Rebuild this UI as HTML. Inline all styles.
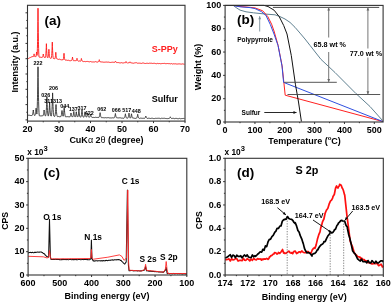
<!DOCTYPE html>
<html><head><meta charset="utf-8"><style>html,body{margin:0;padding:0;background:#fff;}svg{display:block;filter:blur(0.3px);}</style></head>
<body><svg width="392" height="303" viewBox="0 0 392 303">
<rect width="392" height="303" fill="#fff"/>
<path d="M27.50,58.87 L28.50,58.49 L29.50,57.86 L30.50,57.44 L31.50,56.92 L32.50,56.60 L33.00,56.59 L33.10,56.84 L33.30,56.69 L33.50,56.34 L33.65,55.93 L33.80,55.39 L33.95,54.72 L34.10,53.90 L34.25,54.72 L34.40,55.39 L34.50,55.76 L34.55,55.93 L34.70,56.34 L34.90,56.69 L35.10,56.84 L35.20,56.67 L35.50,57.02 L35.60,56.89 L35.80,56.64 L36.00,56.05 L36.15,55.37 L36.30,54.48 L36.45,53.36 L36.50,52.93 L36.60,52.00 L36.75,53.36 L36.90,54.48 L37.00,55.10 L37.05,55.37 L37.20,54.16 L37.40,48.35 L37.50,44.10 L37.55,41.63 L37.60,38.92 L37.70,32.76 L37.85,21.64 L38.00,8.20 L38.15,21.64 L38.30,32.76 L38.45,41.63 L38.50,44.10 L38.60,48.35 L38.80,54.16 L39.00,56.70 L39.10,57.07 L39.50,57.20 L40.50,57.23 L41.50,57.40 L42.20,57.31 L42.30,57.06 L42.50,57.14 L42.70,56.74 L42.85,56.28 L43.00,55.68 L43.15,54.92 L43.30,54.00 L43.45,54.92 L43.50,55.19 L43.60,55.68 L43.75,56.28 L43.90,56.74 L44.10,57.14 L44.30,57.22 L44.40,57.59 L44.50,57.41 L45.30,57.36 L45.40,57.44 L45.50,57.31 L45.60,56.84 L45.80,55.18 L45.95,53.26 L46.10,50.72 L46.25,47.54 L46.40,43.70 L46.50,46.34 L46.55,47.54 L46.70,50.72 L46.85,53.26 L47.00,55.18 L47.20,56.84 L47.40,57.57 L47.50,57.52 L47.80,57.63 L47.90,57.74 L48.10,57.40 L48.30,56.37 L48.45,55.19 L48.50,54.71 L48.60,53.63 L48.75,51.67 L48.90,49.30 L49.05,51.67 L49.20,53.63 L49.35,55.19 L49.50,56.37 L49.70,57.40 L49.90,57.85 L50.00,58.06 L50.50,58.30 L51.20,58.18 L51.30,58.16 L51.50,57.41 L51.70,55.48 L51.85,53.24 L52.00,50.28 L52.15,46.58 L52.30,42.10 L52.45,46.58 L52.50,47.90 L52.60,50.28 L52.75,53.24 L52.90,55.48 L53.10,57.41 L53.30,58.26 L53.40,58.57 L53.50,58.51 L54.50,58.76 L54.70,58.63 L54.80,58.82 L55.00,58.49 L55.20,57.71 L55.35,56.81 L55.50,55.61 L55.65,54.11 L55.80,52.30 L55.95,54.11 L56.10,55.61 L56.25,56.81 L56.40,57.71 L56.50,58.16 L56.60,58.49 L56.80,58.84 L56.90,58.94 L57.50,59.06 L58.50,59.41 L59.50,59.19 L60.50,59.60 L61.50,59.83 L62.50,59.76 L62.90,59.77 L63.00,60.03 L63.20,59.67 L63.40,58.87 L63.50,58.28 L63.55,57.94 L63.70,56.71 L63.85,55.16 L64.00,53.30 L64.15,55.16 L64.30,56.71 L64.45,57.94 L64.50,58.28 L64.60,58.87 L64.80,59.67 L65.00,60.03 L65.10,60.06 L65.50,60.10 L66.50,60.11 L67.50,60.38 L68.50,60.27 L69.50,60.65 L70.50,60.73 L71.40,60.46 L71.50,60.51 L71.70,60.48 L71.90,60.05 L72.05,59.56 L72.20,58.91 L72.35,58.09 L72.50,57.10 L72.65,58.09 L72.80,58.91 L72.95,59.56 L73.10,60.05 L73.30,60.48 L73.50,60.67 L73.60,60.69 L74.50,60.65 L75.50,60.63 L75.90,60.98 L76.00,60.97 L76.20,60.83 L76.40,60.51 L76.50,60.27 L76.55,60.14 L76.70,59.65 L76.85,59.04 L77.00,58.30 L77.15,59.04 L77.30,59.65 L77.45,60.14 L77.50,60.27 L77.60,60.51 L77.80,60.82 L78.00,60.97 L78.10,60.95 L78.50,61.23 L79.50,60.92 L80.30,61.40 L80.40,61.25 L80.50,61.20 L80.60,61.11 L80.80,60.78 L80.95,60.40 L81.10,59.89 L81.25,59.26 L81.40,58.50 L81.50,59.02 L81.55,59.26 L81.70,59.89 L81.85,60.40 L82.00,60.78 L82.20,61.11 L82.40,61.25 L82.50,61.21 L83.50,61.58 L84.50,61.46 L85.50,61.66 L86.50,61.48 L87.50,61.43 L88.50,61.63 L89.50,61.81 L90.50,61.52 L91.50,61.86 L92.50,61.96 L93.50,61.94 L94.50,61.98 L95.50,61.60 L96.50,61.95 L97.50,62.10 L98.20,61.71 L98.30,61.83 L98.50,61.83 L98.70,61.57 L98.85,61.26 L99.00,60.85 L99.15,60.33 L99.30,59.70 L99.45,60.33 L99.50,60.51 L99.60,60.85 L99.75,61.26 L99.90,61.57 L100.10,61.85 L100.30,61.80 L100.40,62.01 L100.50,61.92 L101.50,61.96 L102.50,62.01 L103.50,62.19 L104.50,62.19 L105.50,62.11 L106.50,62.06 L107.50,62.16 L108.50,62.10 L109.50,62.34 L110.50,62.46 L111.50,62.32 L112.50,62.21 L113.50,62.29 L114.30,62.41 L114.40,62.51 L114.50,62.48 L114.60,62.43 L114.80,62.25 L114.95,62.04 L115.10,61.76 L115.25,61.42 L115.40,61.00 L115.50,61.29 L115.55,61.42 L115.70,61.76 L115.85,62.04 L116.00,62.25 L116.20,62.43 L116.40,62.51 L116.50,62.34 L117.50,62.55 L118.50,62.58 L119.50,62.84 L120.50,62.90 L121.50,62.65 L122.50,62.95 L123.50,62.93 L124.50,62.70 L124.90,62.81 L125.00,62.64 L125.20,62.79 L125.40,62.63 L125.50,62.51 L125.55,62.44 L125.70,62.19 L125.85,61.88 L126.00,61.50 L126.15,61.88 L126.30,62.19 L126.45,62.44 L126.50,62.51 L126.60,62.63 L126.80,62.67 L127.00,62.70 L127.10,62.70 L127.50,63.11 L128.50,62.79 L128.90,62.73 L129.00,62.99 L129.20,62.78 L129.40,62.79 L129.50,62.68 L129.55,62.62 L129.70,62.40 L129.85,62.13 L130.00,61.80 L130.15,62.13 L130.30,62.40 L130.45,62.62 L130.50,62.68 L130.60,62.79 L130.80,62.93 L131.00,62.99 L131.10,62.80 L131.50,62.94 L132.50,63.08 L133.50,63.23 L134.50,62.95 L134.90,62.93 L135.00,62.97 L135.20,63.06 L135.40,62.97 L135.50,62.90 L135.55,62.85 L135.70,62.71 L135.85,62.52 L136.00,62.30 L136.15,62.52 L136.30,62.71 L136.45,62.85 L136.50,62.90 L136.60,62.97 L136.80,62.95 L137.00,63.10 L137.10,63.11 L137.50,63.22 L138.50,63.16 L139.50,63.16 L140.50,63.26 L141.50,63.41 L142.50,63.05 L143.50,63.04 L144.50,63.39 L145.50,63.49 L146.50,63.31 L147.50,63.29 L148.50,63.45 L149.50,63.20 L150.50,63.26 L151.50,63.24 L152.50,63.45 L153.50,63.33 L154.50,63.31 L155.50,63.56 L156.50,63.71 L157.50,63.40 L158.50,63.62 L159.50,63.49 L160.50,63.73 L161.50,63.62 L162.50,63.47 L163.50,63.47 L164.50,63.39 L165.50,63.64 L166.50,63.61 L167.50,63.52 L168.50,63.63 L169.50,63.63 L170.50,63.87 L171.50,63.58 L172.50,64.02 L173.50,63.78 L174.50,63.86 L175.50,63.81 L176.50,64.01 L177.50,64.02 L178.50,63.91 L179.50,63.89 L180.50,64.03 L181.50,64.11 L182.50,63.90 L183.50,64.09 L184.50,64.22" fill="none" stroke="#ff1a1a" stroke-width="0.95" stroke-linejoin="round" />
<path d="M27.50,115.29 L28.50,115.23 L29.50,115.27 L30.50,115.51 L31.50,115.53 L31.90,115.53 L32.10,115.46 L32.30,115.18 L32.50,114.67 L32.70,113.92 L32.85,113.17 L33.00,112.28 L33.15,111.22 L33.30,110.00 L33.45,111.22 L33.50,111.59 L33.60,112.28 L33.75,113.17 L33.90,113.92 L34.10,114.67 L34.30,115.18 L34.50,115.46 L34.70,115.50 L34.90,115.54 L35.10,115.17 L35.30,114.49 L35.50,113.47 L35.65,112.47 L35.80,111.26 L35.95,109.84 L36.10,108.20 L36.25,109.84 L36.40,111.26 L36.50,112.09 L36.55,112.47 L36.60,112.83 L36.70,113.47 L36.80,114.02 L36.90,114.07 L37.00,112.61 L37.10,110.64 L37.20,108.14 L37.30,105.07 L37.40,101.44 L37.50,97.21 L37.55,94.88 L37.70,86.94 L37.85,77.60 L38.00,66.80 L38.15,77.60 L38.30,86.94 L38.45,94.88 L38.50,97.21 L38.60,101.44 L38.80,108.14 L39.00,112.61 L39.20,115.04 L39.40,115.72 L39.50,115.87 L40.50,115.89 L41.50,115.89 L42.50,115.77 L42.70,115.96 L42.90,115.88 L43.10,115.59 L43.30,115.04 L43.50,114.22 L43.65,113.42 L43.80,112.46 L43.95,111.32 L44.10,110.00 L44.25,111.32 L44.40,112.46 L44.50,113.12 L44.55,113.42 L44.70,114.22 L44.90,115.04 L45.10,115.59 L45.30,115.84 L45.50,115.96 L45.70,115.81 L45.90,114.84 L46.10,113.06 L46.30,110.39 L46.45,107.78 L46.50,106.79 L46.60,104.62 L46.75,100.90 L46.90,96.60 L47.05,100.90 L47.20,104.62 L47.35,107.78 L47.50,110.39 L47.70,113.06 L47.90,114.84 L48.10,115.81 L48.20,116.02 L48.30,116.08 L48.40,115.98 L48.50,115.71 L48.60,115.28 L48.80,113.98 L49.00,112.04 L49.15,110.14 L49.30,107.84 L49.45,105.13 L49.50,104.13 L49.60,102.00 L49.75,105.13 L49.90,107.84 L50.05,110.14 L50.20,112.04 L50.40,113.98 L50.50,114.71 L50.60,115.28 L50.80,115.99 L51.00,116.12 L51.20,116.15 L51.40,115.98 L51.50,115.51 L51.60,114.82 L51.80,112.68 L52.00,109.47 L52.15,106.33 L52.30,102.54 L52.45,98.06 L52.50,96.42 L52.60,92.90 L52.75,98.06 L52.90,102.54 L53.05,106.33 L53.20,109.47 L53.40,112.68 L53.50,113.87 L53.60,114.82 L53.80,115.98 L54.00,116.30 L54.50,116.38 L54.60,116.39 L54.80,116.27 L55.00,115.68 L55.20,114.59 L55.40,112.95 L55.50,111.92 L55.55,111.35 L55.70,109.42 L55.85,107.13 L56.00,104.50 L56.15,107.13 L56.30,109.42 L56.45,111.35 L56.50,111.92 L56.60,112.95 L56.80,114.59 L57.00,115.68 L57.20,116.27 L57.40,116.44 L57.50,116.67 L58.50,116.47 L59.50,116.73 L60.50,116.70 L60.60,116.48 L60.80,116.59 L61.00,116.29 L61.20,115.72 L61.40,114.88 L61.50,114.34 L61.55,114.05 L61.70,113.04 L61.85,111.86 L62.00,110.50 L62.15,111.86 L62.30,113.04 L62.45,114.05 L62.50,114.34 L62.60,114.88 L62.80,115.72 L63.00,116.29 L63.20,116.12 L63.40,115.18 L63.50,114.53 L63.60,113.77 L63.75,112.39 L63.90,110.73 L64.05,108.77 L64.20,106.50 L64.35,108.77 L64.50,110.73 L64.65,112.39 L64.80,113.77 L65.00,115.18 L65.20,116.12 L65.40,116.63 L65.50,116.74 L65.60,116.77 L66.50,116.72 L67.50,116.65 L68.50,116.75 L69.50,117.00 L69.60,116.75 L69.80,116.87 L70.00,116.67 L70.20,116.31 L70.40,115.78 L70.50,115.44 L70.55,115.25 L70.70,114.61 L70.85,113.87 L71.00,113.00 L71.15,113.87 L71.30,114.61 L71.45,115.25 L71.50,115.44 L71.60,115.78 L71.80,116.31 L72.00,116.67 L72.20,116.87 L72.40,116.91 L72.50,116.76 L72.60,116.90 L72.80,116.63 L73.00,116.13 L73.20,115.38 L73.35,114.64 L73.50,113.75 L73.65,112.71 L73.80,111.50 L73.95,112.71 L74.10,113.75 L74.25,114.64 L74.40,115.38 L74.50,115.78 L74.60,116.13 L74.80,116.63 L74.90,116.79 L75.00,116.90 L75.10,116.95 L75.20,116.85 L75.30,116.69 L75.50,116.22 L75.70,115.50 L75.85,114.80 L76.00,113.95 L76.15,112.95 L76.30,111.80 L76.45,112.95 L76.50,113.30 L76.60,113.95 L76.75,114.80 L76.90,115.50 L77.10,116.22 L77.30,116.69 L77.50,116.95 L77.70,116.98 L77.90,116.63 L78.10,115.98 L78.30,115.01 L78.45,114.06 L78.50,113.70 L78.60,112.91 L78.75,111.56 L78.90,110.00 L79.05,111.56 L79.20,112.91 L79.35,114.06 L79.50,115.01 L79.70,115.98 L79.90,116.63 L80.10,116.98 L80.30,116.98 L80.50,117.21 L80.60,117.21 L80.80,117.04 L81.00,116.69 L81.20,116.03 L81.40,115.06 L81.50,114.44 L81.55,114.10 L81.70,112.94 L81.85,111.58 L82.00,110.00 L82.15,111.58 L82.30,112.94 L82.45,114.10 L82.50,114.44 L82.60,115.06 L82.80,116.03 L83.00,116.69 L83.20,117.04 L83.40,116.98 L83.50,117.16 L83.60,117.28 L83.80,117.13 L84.00,116.86 L84.20,116.36 L84.40,115.62 L84.50,115.16 L84.55,114.90 L84.70,114.02 L84.85,112.99 L85.00,111.80 L85.15,112.99 L85.30,114.02 L85.45,114.90 L85.50,115.16 L85.60,115.62 L85.80,116.36 L86.00,116.86 L86.20,117.13 L86.40,117.07 L86.50,117.06 L86.60,116.98 L86.80,116.59 L87.00,116.01 L87.15,115.44 L87.30,114.75 L87.45,113.94 L87.50,113.64 L87.60,113.00 L87.75,113.94 L87.90,114.75 L88.05,115.44 L88.20,116.01 L88.40,116.59 L88.50,116.81 L88.60,116.98 L88.80,117.19 L89.00,117.16 L89.20,117.16 L89.40,117.12 L89.50,117.20 L89.60,117.10 L89.80,116.80 L90.00,116.35 L90.15,115.90 L90.30,115.36 L90.45,114.73 L90.50,114.50 L90.60,114.00 L90.75,114.73 L90.90,115.36 L91.05,115.90 L91.20,116.35 L91.40,116.80 L91.50,116.97 L91.60,117.10 L91.80,117.27 L92.00,117.18 L92.50,117.48 L93.50,117.41 L94.50,117.52 L95.50,117.29 L96.50,117.45 L97.50,117.44 L98.50,117.56 L98.70,117.30 L98.90,117.42 L99.10,117.20 L99.30,116.76 L99.50,116.10 L99.65,115.46 L99.80,114.68 L99.95,113.76 L100.10,112.70 L100.25,113.76 L100.40,114.68 L100.50,115.21 L100.55,115.46 L100.70,116.10 L100.90,116.76 L101.10,117.20 L101.30,117.40 L101.50,117.71 L102.50,117.65 L103.50,117.73 L104.50,117.80 L105.50,117.67 L106.50,117.82 L107.50,117.69 L108.50,117.67 L109.50,117.90 L110.50,117.91 L111.50,117.95 L112.50,117.79 L113.50,117.92 L114.00,117.79 L114.20,117.80 L114.40,117.58 L114.50,117.41 L114.60,117.18 L114.80,116.59 L114.95,116.00 L115.10,115.29 L115.25,114.46 L115.40,113.50 L115.50,114.16 L115.55,114.46 L115.70,115.29 L115.85,116.00 L116.00,116.59 L116.20,117.18 L116.40,117.58 L116.50,117.71 L116.60,117.80 L116.80,117.73 L117.50,117.83 L118.50,117.90 L119.50,117.79 L120.50,117.84 L121.50,118.11 L122.50,118.11 L123.50,118.24 L124.00,118.25 L124.20,118.03 L124.40,117.82 L124.50,117.65 L124.60,117.43 L124.80,116.84 L124.95,116.26 L125.10,115.57 L125.25,114.75 L125.40,113.80 L125.50,114.45 L125.55,114.75 L125.70,115.57 L125.85,116.26 L126.00,116.84 L126.20,117.43 L126.40,117.82 L126.50,117.92 L126.60,117.97 L126.80,118.09 L127.50,118.16 L127.60,118.01 L127.80,117.97 L128.00,117.86 L128.20,117.41 L128.40,116.72 L128.50,116.29 L128.55,116.06 L128.70,115.25 L128.85,114.30 L129.00,113.20 L129.15,114.30 L129.30,115.25 L129.45,116.06 L129.50,116.29 L129.60,116.72 L129.80,117.41 L130.00,117.86 L130.10,118.01 L130.20,118.11 L130.30,118.15 L130.40,118.06 L130.50,117.93 L130.70,117.53 L130.90,116.92 L131.05,116.33 L131.20,115.62 L131.35,114.77 L131.50,113.80 L131.65,114.77 L131.80,115.62 L131.95,116.33 L132.10,116.92 L132.30,117.53 L132.50,117.93 L132.70,118.13 L132.90,118.09 L133.50,118.03 L134.50,118.29 L135.50,118.40 L136.30,118.26 L136.50,118.20 L136.70,118.00 L136.90,117.64 L137.10,117.10 L137.25,116.57 L137.40,115.93 L137.50,115.44 L137.55,115.17 L137.70,114.30 L137.85,115.17 L138.00,115.93 L138.15,116.57 L138.30,117.10 L138.50,117.64 L138.70,118.00 L138.90,118.20 L139.10,118.25 L139.50,118.45 L140.50,118.14 L141.50,118.21 L142.50,118.30 L143.50,118.26 L144.40,118.45 L144.50,118.31 L144.60,118.28 L144.80,118.17 L145.00,117.96 L145.20,117.64 L145.35,117.33 L145.50,116.95 L145.65,116.51 L145.80,116.00 L145.95,116.51 L146.10,116.95 L146.25,117.33 L146.40,117.64 L146.50,117.81 L146.60,117.96 L146.80,118.17 L147.00,118.28 L147.20,118.20 L147.50,118.50 L148.50,118.21 L149.50,118.30 L150.50,118.48 L151.50,118.28 L152.50,118.27 L153.50,118.55 L154.50,118.56 L155.50,118.31 L156.50,118.35 L157.50,118.31 L158.50,118.26 L159.50,118.31 L160.50,118.61 L161.50,118.26 L162.50,118.33 L163.50,118.32 L164.50,118.28 L165.50,118.47 L166.50,118.56 L167.50,118.61 L168.50,118.53 L168.90,118.61 L169.10,118.29 L169.30,118.39 L169.50,118.23 L169.70,118.00 L169.85,117.77 L170.00,117.50 L170.15,117.17 L170.30,116.80 L170.45,117.17 L170.50,117.29 L170.60,117.50 L170.75,117.77 L170.90,118.00 L171.10,118.23 L171.30,118.39 L171.50,118.47 L171.70,118.49 L172.50,118.37 L173.50,118.34 L174.50,118.63 L175.50,118.40 L176.50,118.41 L177.50,118.67 L178.50,118.70 L179.50,118.38 L180.50,118.75 L181.50,118.59 L182.50,118.53 L183.50,118.43 L184.50,118.55" fill="none" stroke="#222" stroke-width="0.85" stroke-linejoin="round" />
<rect x="27.50" y="5.30" width="157.50" height="115.80" fill="none" stroke="#333" stroke-width="1.1"/>
<line x1="27.50" y1="121.10" x2="27.50" y2="123.10" stroke="#333" stroke-width="1" />
<text x="27.50" y="132.00" font-size="9" text-anchor="middle" fill="#000" font-family="Liberation Sans" font-weight="bold" >20</text>
<line x1="59.00" y1="121.10" x2="59.00" y2="123.10" stroke="#333" stroke-width="1" />
<text x="59.00" y="132.00" font-size="9" text-anchor="middle" fill="#000" font-family="Liberation Sans" font-weight="bold" >30</text>
<line x1="90.50" y1="121.10" x2="90.50" y2="123.10" stroke="#333" stroke-width="1" />
<text x="90.50" y="132.00" font-size="9" text-anchor="middle" fill="#000" font-family="Liberation Sans" font-weight="bold" >40</text>
<line x1="122.00" y1="121.10" x2="122.00" y2="123.10" stroke="#333" stroke-width="1" />
<text x="122.00" y="132.00" font-size="9" text-anchor="middle" fill="#000" font-family="Liberation Sans" font-weight="bold" >50</text>
<line x1="153.50" y1="121.10" x2="153.50" y2="123.10" stroke="#333" stroke-width="1" />
<text x="153.50" y="132.00" font-size="9" text-anchor="middle" fill="#000" font-family="Liberation Sans" font-weight="bold" >60</text>
<line x1="185.00" y1="121.10" x2="185.00" y2="123.10" stroke="#333" stroke-width="1" />
<text x="185.00" y="132.00" font-size="9" text-anchor="middle" fill="#000" font-family="Liberation Sans" font-weight="bold" >70</text>
<line x1="43.25" y1="121.10" x2="43.25" y2="122.30" stroke="#333" stroke-width="1" />
<line x1="74.75" y1="121.10" x2="74.75" y2="122.30" stroke="#333" stroke-width="1" />
<line x1="106.25" y1="121.10" x2="106.25" y2="122.30" stroke="#333" stroke-width="1" />
<line x1="137.75" y1="121.10" x2="137.75" y2="122.30" stroke="#333" stroke-width="1" />
<line x1="169.25" y1="121.10" x2="169.25" y2="122.30" stroke="#333" stroke-width="1" />
<line x1="25.50" y1="12.80" x2="27.50" y2="12.80" stroke="#333" stroke-width="1" />
<line x1="26.30" y1="20.45" x2="27.50" y2="20.45" stroke="#333" stroke-width="1" />
<line x1="25.50" y1="28.10" x2="27.50" y2="28.10" stroke="#333" stroke-width="1" />
<line x1="26.30" y1="35.75" x2="27.50" y2="35.75" stroke="#333" stroke-width="1" />
<line x1="25.50" y1="43.40" x2="27.50" y2="43.40" stroke="#333" stroke-width="1" />
<line x1="26.30" y1="51.05" x2="27.50" y2="51.05" stroke="#333" stroke-width="1" />
<line x1="25.50" y1="58.70" x2="27.50" y2="58.70" stroke="#333" stroke-width="1" />
<line x1="26.30" y1="66.35" x2="27.50" y2="66.35" stroke="#333" stroke-width="1" />
<line x1="25.50" y1="74.00" x2="27.50" y2="74.00" stroke="#333" stroke-width="1" />
<line x1="26.30" y1="81.65" x2="27.50" y2="81.65" stroke="#333" stroke-width="1" />
<line x1="25.50" y1="89.30" x2="27.50" y2="89.30" stroke="#333" stroke-width="1" />
<line x1="26.30" y1="96.95" x2="27.50" y2="96.95" stroke="#333" stroke-width="1" />
<line x1="25.50" y1="104.60" x2="27.50" y2="104.60" stroke="#333" stroke-width="1" />
<line x1="26.30" y1="112.25" x2="27.50" y2="112.25" stroke="#333" stroke-width="1" />
<line x1="25.50" y1="119.90" x2="27.50" y2="119.90" stroke="#333" stroke-width="1" />
<text x="106.50" y="143.20" font-size="9" text-anchor="middle" fill="#000" font-family="Liberation Sans" font-weight="bold" >CuK<tspan font-weight="normal">α</tspan> 2<tspan font-weight="normal">θ</tspan> (degree)</text>
<text x="17.60" y="62.00" font-size="9" text-anchor="middle" fill="#000" font-family="Liberation Sans" font-weight="bold" transform="rotate(-90 17.6 62)">Intensity (a.u.)</text>
<text x="44.50" y="25.00" font-size="13.5" text-anchor="start" fill="#000" font-family="Liberation Sans" font-weight="bold" >(a)</text>
<text x="151.80" y="52.00" font-size="9" text-anchor="start" fill="#ff2020" font-family="Liberation Sans" font-weight="bold" >S-PPy</text>
<text x="151.80" y="101.60" font-size="9" text-anchor="start" fill="#000" font-family="Liberation Sans" font-weight="bold" >Sulfur</text>
<text x="38.10" y="64.80" font-size="5.4" text-anchor="middle" fill="#000" font-family="Liberation Sans" font-weight="bold" >222</text>
<text x="45.70" y="96.60" font-size="5.4" text-anchor="middle" fill="#000" font-family="Liberation Sans" font-weight="bold" >026</text>
<text x="53.40" y="90.00" font-size="5.4" text-anchor="middle" fill="#000" font-family="Liberation Sans" font-weight="bold" >206</text>
<text x="48.60" y="103.00" font-size="5.4" text-anchor="middle" fill="#000" font-family="Liberation Sans" font-weight="bold" >311</text>
<text x="57.40" y="103.00" font-size="5.4" text-anchor="middle" fill="#000" font-family="Liberation Sans" font-weight="bold" >313</text>
<text x="64.70" y="108.00" font-size="5.4" text-anchor="middle" fill="#000" font-family="Liberation Sans" font-weight="bold" >044</text>
<text x="73.30" y="110.90" font-size="5.4" text-anchor="middle" fill="#000" font-family="Liberation Sans" font-weight="bold" >137</text>
<text x="82.10" y="109.70" font-size="5.4" text-anchor="middle" fill="#000" font-family="Liberation Sans" font-weight="bold" >317</text>
<text x="89.30" y="114.80" font-size="5.4" text-anchor="middle" fill="#000" font-family="Liberation Sans" font-weight="bold" >422</text>
<text x="101.70" y="110.60" font-size="5.4" text-anchor="middle" fill="#000" font-family="Liberation Sans" font-weight="bold" >062</text>
<text x="116.20" y="112.30" font-size="5.4" text-anchor="middle" fill="#000" font-family="Liberation Sans" font-weight="bold" >066</text>
<text x="126.80" y="111.50" font-size="5.4" text-anchor="middle" fill="#000" font-family="Liberation Sans" font-weight="bold" >517</text>
<text x="136.20" y="113.00" font-size="5.4" text-anchor="middle" fill="#000" font-family="Liberation Sans" font-weight="bold" >448</text>
<path d="M233.50,5.60 L236.00,7.50 L240.00,10.10 L246.00,11.80 L253.40,12.80 L261.00,13.60 L267.00,14.20 L275.00,14.80 L280.00,16.60 L285.00,19.00 L290.00,22.40 L295.00,27.30 L300.00,33.10 L305.00,39.00 L310.00,45.40 L321.00,59.40 L335.00,72.50 L356.00,93.60 L370.00,106.50 L382.50,120.50" fill="none" stroke="#5f8090" stroke-width="1.0" stroke-linejoin="round" />
<path d="M233.90,5.40 L240.00,6.50 L250.50,7.40 L255.00,7.90 L262.70,10.80 L267.80,16.60 L271.60,24.20 L274.00,31.00 L278.10,45.40 L282.10,65.80 L283.60,80.00 L285.20,95.20 L383.00,121.60" fill="none" stroke="#ff2020" stroke-width="1.0" stroke-linejoin="round" />
<path d="M233.50,5.60 L240.00,6.80 L250.00,7.60 L255.00,8.60 L261.40,11.60 L266.00,15.50 L270.30,24.50 L274.00,34.00 L278.00,45.40 L282.00,66.00 L283.60,82.40 L383.00,121.60" fill="none" stroke="#2f4fe0" stroke-width="1.0" stroke-linejoin="round" />
<path d="M225.10,5.40 L264.00,5.40 L268.00,6.50 L274.10,10.20 L279.20,16.60 L283.70,25.50 L287.00,34.00 L291.30,55.60 L295.40,84.20 L298.50,102.00 L301.40,121.50" fill="none" stroke="#111" stroke-width="1.0" stroke-linejoin="round" />
<line x1="272.90" y1="7.40" x2="379.20" y2="7.40" stroke="#333" stroke-width="0.9" />
<line x1="284.40" y1="82.30" x2="336.80" y2="82.30" stroke="#444" stroke-width="0.9" />
<line x1="287.50" y1="94.50" x2="380.20" y2="94.50" stroke="#444" stroke-width="0.9" />
<line x1="328.70" y1="37.50" x2="328.70" y2="7.60" stroke="#666" stroke-width="0.9" />
<polygon points="328.70,7.60 330.10,10.60 327.30,10.60" fill="#666"/>
<line x1="328.70" y1="52.00" x2="328.70" y2="82.00" stroke="#666" stroke-width="0.9" />
<polygon points="328.70,82.00 327.30,79.00 330.10,79.00" fill="#666"/>
<line x1="367.90" y1="48.50" x2="367.90" y2="7.60" stroke="#666" stroke-width="0.9" />
<polygon points="367.90,7.60 369.30,10.60 366.50,10.60" fill="#666"/>
<line x1="367.90" y1="57.50" x2="367.90" y2="94.20" stroke="#666" stroke-width="0.9" />
<polygon points="367.90,94.20 366.50,91.20 369.30,91.20" fill="#666"/>
<line x1="259.70" y1="31.50" x2="259.70" y2="16.20" stroke="#7a8f9a" stroke-width="0.9" />
<polygon points="259.70,16.20 261.10,19.20 258.30,19.20" fill="#7a8f9a"/>
<line x1="264.30" y1="112.50" x2="296.50" y2="112.50" stroke="#111" stroke-width="0.9" />
<polygon points="296.50,112.50 293.50,113.90 293.50,111.10" fill="#111"/>
<rect x="225.10" y="5.40" width="158.00" height="116.60" fill="none" stroke="#333" stroke-width="1.1"/>
<line x1="225.10" y1="122.00" x2="225.10" y2="124.00" stroke="#333" stroke-width="1" />
<text x="225.10" y="132.60" font-size="9" text-anchor="middle" fill="#000" font-family="Liberation Sans" font-weight="bold" >0</text>
<line x1="254.94" y1="122.00" x2="254.94" y2="124.00" stroke="#333" stroke-width="1" />
<text x="254.94" y="132.60" font-size="9" text-anchor="middle" fill="#000" font-family="Liberation Sans" font-weight="bold" >100</text>
<line x1="284.78" y1="122.00" x2="284.78" y2="124.00" stroke="#333" stroke-width="1" />
<text x="284.78" y="132.60" font-size="9" text-anchor="middle" fill="#000" font-family="Liberation Sans" font-weight="bold" >200</text>
<line x1="314.62" y1="122.00" x2="314.62" y2="124.00" stroke="#333" stroke-width="1" />
<text x="314.62" y="132.60" font-size="9" text-anchor="middle" fill="#000" font-family="Liberation Sans" font-weight="bold" >300</text>
<line x1="344.46" y1="122.00" x2="344.46" y2="124.00" stroke="#333" stroke-width="1" />
<text x="344.46" y="132.60" font-size="9" text-anchor="middle" fill="#000" font-family="Liberation Sans" font-weight="bold" >400</text>
<line x1="374.30" y1="122.00" x2="374.30" y2="124.00" stroke="#333" stroke-width="1" />
<text x="374.30" y="132.60" font-size="9" text-anchor="middle" fill="#000" font-family="Liberation Sans" font-weight="bold" >500</text>
<line x1="240.02" y1="122.00" x2="240.02" y2="123.20" stroke="#333" stroke-width="1" />
<line x1="269.86" y1="122.00" x2="269.86" y2="123.20" stroke="#333" stroke-width="1" />
<line x1="299.70" y1="122.00" x2="299.70" y2="123.20" stroke="#333" stroke-width="1" />
<line x1="329.54" y1="122.00" x2="329.54" y2="123.20" stroke="#333" stroke-width="1" />
<line x1="359.38" y1="122.00" x2="359.38" y2="123.20" stroke="#333" stroke-width="1" />
<line x1="223.10" y1="122.00" x2="225.10" y2="122.00" stroke="#333" stroke-width="1" />
<text x="221.20" y="124.50" font-size="9" text-anchor="end" fill="#000" font-family="Liberation Sans" font-weight="bold" >0</text>
<line x1="223.10" y1="98.68" x2="225.10" y2="98.68" stroke="#333" stroke-width="1" />
<text x="221.20" y="101.18" font-size="9" text-anchor="end" fill="#000" font-family="Liberation Sans" font-weight="bold" >20</text>
<line x1="223.10" y1="75.36" x2="225.10" y2="75.36" stroke="#333" stroke-width="1" />
<text x="221.20" y="77.86" font-size="9" text-anchor="end" fill="#000" font-family="Liberation Sans" font-weight="bold" >40</text>
<line x1="223.10" y1="52.04" x2="225.10" y2="52.04" stroke="#333" stroke-width="1" />
<text x="221.20" y="54.54" font-size="9" text-anchor="end" fill="#000" font-family="Liberation Sans" font-weight="bold" >60</text>
<line x1="223.10" y1="28.72" x2="225.10" y2="28.72" stroke="#333" stroke-width="1" />
<text x="221.20" y="31.22" font-size="9" text-anchor="end" fill="#000" font-family="Liberation Sans" font-weight="bold" >80</text>
<line x1="223.10" y1="5.40" x2="225.10" y2="5.40" stroke="#333" stroke-width="1" />
<text x="221.20" y="7.90" font-size="9" text-anchor="end" fill="#000" font-family="Liberation Sans" font-weight="bold" >100</text>
<line x1="223.90" y1="110.34" x2="225.10" y2="110.34" stroke="#333" stroke-width="1" />
<line x1="223.90" y1="87.02" x2="225.10" y2="87.02" stroke="#333" stroke-width="1" />
<line x1="223.90" y1="63.70" x2="225.10" y2="63.70" stroke="#333" stroke-width="1" />
<line x1="223.90" y1="40.38" x2="225.10" y2="40.38" stroke="#333" stroke-width="1" />
<line x1="223.90" y1="17.06" x2="225.10" y2="17.06" stroke="#333" stroke-width="1" />
<text x="304.60" y="143.70" font-size="9" text-anchor="middle" fill="#000" font-family="Liberation Sans" font-weight="bold" >Temperature (<tspan font-size="6" dy="-3.5">o</tspan><tspan dy="3.5">C)</tspan></text>
<text x="201.40" y="67.00" font-size="9" text-anchor="middle" fill="#000" font-family="Liberation Sans" font-weight="bold" transform="rotate(-90 201.4 67)">Weight (%)</text>
<text x="237.00" y="24.10" font-size="13.5" text-anchor="start" fill="#000" font-family="Liberation Sans" font-weight="bold" >(b)</text>
<text x="237.20" y="42.20" font-size="6.5" text-anchor="start" fill="#000" font-family="Liberation Sans" font-weight="bold" >Polypyrrole</text>
<text x="241.60" y="114.80" font-size="6.5" text-anchor="start" fill="#000" font-family="Liberation Sans" font-weight="bold" >Sulfur</text>
<text x="313.60" y="47.00" font-size="7.2" text-anchor="start" fill="#000" font-family="Liberation Sans" font-weight="bold" >65.8 wt %</text>
<text x="349.80" y="55.70" font-size="7.2" text-anchor="start" fill="#000" font-family="Liberation Sans" font-weight="bold" >77.0 wt %</text>
<path d="M28.10,252.70 L28.60,252.92 L29.10,252.54 L29.60,252.44 L30.10,252.42 L30.60,252.38 L31.10,252.47 L31.60,252.72 L32.10,252.28 L32.60,252.31 L33.10,252.65 L33.60,252.66 L34.10,252.62 L34.60,252.23 L35.10,252.26 L35.60,252.53 L36.10,252.27 L36.60,252.35 L37.10,252.13 L37.60,251.96 L38.10,252.09 L38.60,252.27 L39.10,252.26 L39.60,252.12 L40.10,252.05 L40.60,252.06 L41.10,251.98 L41.30,252.00 L41.60,252.18 L42.10,252.61 L42.60,252.57 L43.10,253.05 L43.60,253.49 L44.00,253.50 L44.10,253.79 L44.60,254.02 L45.10,254.98 L45.60,255.49 L46.10,255.72 L46.60,256.34 L46.90,256.80 L47.10,256.67 L47.60,256.66 L48.10,257.18 L48.60,257.00 L49.10,236.01 L49.50,219.30 L49.60,223.68 L50.10,244.24 L50.40,257.00 L50.60,257.52 L51.00,259.30 L51.10,259.49 L51.60,259.46 L52.10,259.57 L52.60,259.43 L53.10,259.36 L53.60,259.49 L54.10,259.17 L54.60,259.40 L55.10,259.36 L55.60,259.23 L56.10,259.46 L56.60,259.34 L57.10,259.44 L57.60,259.38 L58.10,259.37 L58.60,259.40 L59.10,259.53 L59.60,259.73 L60.00,259.50 L60.10,259.72 L60.60,259.68 L61.10,259.67 L61.60,259.40 L62.10,259.75 L62.60,259.39 L63.10,259.32 L63.60,259.51 L64.10,259.63 L64.60,259.44 L65.10,259.59 L65.60,259.41 L66.10,259.75 L66.60,259.50 L67.10,259.51 L67.60,259.54 L68.10,259.71 L68.60,259.77 L69.10,259.54 L69.60,259.50 L70.10,259.59 L70.60,259.32 L71.10,259.50 L71.60,259.71 L72.10,259.68 L72.60,259.32 L73.10,259.72 L73.60,259.49 L74.10,259.79 L74.60,259.48 L75.10,259.41 L75.60,259.58 L76.10,259.75 L76.60,259.52 L77.10,259.74 L77.60,259.66 L78.10,259.49 L78.60,259.46 L79.10,259.57 L79.60,259.51 L80.10,259.50 L80.60,259.64 L81.10,259.76 L81.60,259.61 L82.10,259.40 L82.60,259.44 L83.10,259.51 L83.60,259.64 L84.10,259.40 L84.60,259.37 L85.10,259.49 L85.60,259.48 L86.10,259.35 L86.60,259.61 L87.10,259.80 L87.60,259.61 L88.10,259.71 L88.60,259.76 L89.10,259.77 L89.60,259.81 L90.00,259.60 L90.10,259.45 L90.60,258.96 L90.90,258.50 L91.10,250.95 L91.40,240.10 L91.60,246.59 L92.00,259.00 L92.10,259.08 L92.60,259.84 L93.10,260.77 L93.40,261.00 L93.60,260.89 L94.10,260.83 L94.60,261.13 L95.10,261.01 L95.60,260.74 L96.10,260.69 L96.60,260.84 L97.10,260.66 L97.60,261.06 L98.10,260.72 L98.60,260.75 L99.10,260.80 L99.60,260.85 L100.10,260.79 L100.60,260.88 L101.10,260.88 L101.60,260.76 L102.10,260.57 L102.60,261.00 L103.10,260.84 L103.60,260.53 L104.10,260.69 L104.60,260.84 L105.00,260.70 L105.10,260.94 L105.60,260.43 L106.10,260.36 L106.60,260.55 L107.10,260.48 L107.60,260.67 L108.10,260.59 L108.60,260.30 L109.10,260.30 L109.60,260.34 L110.10,260.44 L110.60,260.06 L111.10,260.11 L111.60,259.91 L112.10,260.14 L112.60,259.79 L113.10,260.20 L113.60,259.95 L114.10,259.93 L114.60,259.65 L115.10,259.67 L115.60,259.75 L116.10,259.90 L116.60,259.70 L117.10,259.52 L117.60,259.83 L118.10,259.62 L118.60,259.50 L119.10,259.72 L119.60,259.77 L120.10,260.02 L120.60,260.53 L121.00,260.50 L121.10,260.41 L121.60,261.08 L122.10,261.60 L122.60,261.94 L123.10,262.62 L123.60,263.17 L124.10,263.62 L124.60,264.03 L124.80,264.10 L125.10,263.50 L125.60,262.68 L126.10,262.12 L126.20,262.00 L126.60,237.91 L127.10,207.85 L127.40,190.00 L127.60,205.19 L128.10,242.36 L128.40,265.00 L128.60,266.99 L129.00,270.50 L129.10,270.72 L129.60,270.33 L130.10,270.75 L130.60,270.52 L131.10,270.44 L131.60,270.45 L132.10,270.40 L132.60,270.65 L133.10,270.61 L133.60,270.87 L134.10,270.88 L134.60,270.51 L135.10,270.70 L135.60,270.72 L136.10,270.63 L136.60,270.69 L137.10,270.72 L137.60,270.96 L138.10,270.80 L138.60,270.71 L139.10,270.78 L139.60,270.91 L140.10,270.99 L140.60,270.86 L141.00,271.00 L141.10,271.07 L141.60,270.69 L142.10,270.78 L142.60,270.61 L143.10,270.25 L143.60,270.40 L144.10,270.09 L144.60,270.00 L145.10,268.27 L145.60,266.50 L146.10,268.70 L146.60,270.80 L147.10,270.91 L147.60,270.85 L148.10,270.70 L148.60,271.11 L149.10,271.19 L149.60,271.04 L150.10,271.13 L150.60,271.02 L151.10,271.37 L151.60,271.31 L152.10,271.12 L152.60,271.46 L153.10,271.58 L153.60,271.30 L154.10,271.67 L154.60,271.45 L155.10,271.34 L155.60,271.65 L156.10,271.51 L156.60,271.74 L157.10,271.71 L157.60,271.52 L158.10,271.77 L158.60,271.97 L159.10,271.82 L159.60,271.90 L160.10,272.10 L160.60,271.93 L161.10,272.00 L161.60,272.08 L162.10,272.25 L162.60,271.98 L163.10,271.96 L163.50,272.20 L163.60,272.21 L164.10,271.53 L164.60,270.83 L165.10,270.54 L165.40,270.00 L165.60,269.57 L166.10,267.83 L166.20,267.50 L166.60,270.14 L167.10,273.07 L167.20,273.50 L167.60,273.63 L168.10,273.41 L168.60,273.28 L169.10,273.62 L169.60,273.65 L170.10,273.47 L170.60,273.54 L171.10,273.59 L171.60,273.44 L172.10,273.67 L172.60,273.61 L173.10,273.53 L173.60,273.40 L174.10,273.63 L174.60,273.52 L175.10,273.73 L175.60,273.46 L176.10,273.58 L176.60,273.49 L177.10,273.61 L177.60,273.70 L178.10,273.47 L178.60,273.45 L179.10,273.67 L179.60,273.54 L180.10,273.70 L180.60,273.54 L181.10,273.51 L181.60,273.74 L182.10,273.94 L182.60,273.92 L183.10,273.75 L183.60,273.70 L184.10,273.54 L184.60,273.65 L185.10,273.68 L185.60,274.00 L186.10,273.60 L186.60,274.02 L186.80,273.80" fill="none" stroke="#111" stroke-width="1.05" stroke-linejoin="round" />
<path d="M28.10,256.30 L43.30,256.80 L46.90,257.90 L48.60,257.50 L49.50,250.50 L50.40,257.50 L51.00,258.90 L70.00,258.70 L90.00,258.50 L90.90,257.00 L91.40,249.50 L92.00,258.00 L93.40,259.20 L107.90,257.20 L119.40,254.90 L122.00,256.50 L124.00,260.30 L126.50,258.00 L127.80,190.10 L128.60,262.00 L129.20,270.20 L141.60,271.00 L144.60,269.50 L145.60,264.30 L146.50,270.30 L163.50,272.20 L165.40,269.00 L166.20,261.50 L167.00,269.00 L167.80,273.50 L186.80,273.50" fill="none" stroke="#ff2a2a" stroke-width="0.9" stroke-linejoin="round" />
<rect x="28.10" y="158.30" width="158.70" height="116.70" fill="none" stroke="#333" stroke-width="1.1"/>
<line x1="28.10" y1="275.00" x2="28.10" y2="277.00" stroke="#333" stroke-width="1" />
<text x="28.10" y="286.00" font-size="9" text-anchor="middle" fill="#000" font-family="Liberation Sans" font-weight="bold" >600</text>
<line x1="59.84" y1="275.00" x2="59.84" y2="277.00" stroke="#333" stroke-width="1" />
<text x="59.84" y="286.00" font-size="9" text-anchor="middle" fill="#000" font-family="Liberation Sans" font-weight="bold" >500</text>
<line x1="91.58" y1="275.00" x2="91.58" y2="277.00" stroke="#333" stroke-width="1" />
<text x="91.58" y="286.00" font-size="9" text-anchor="middle" fill="#000" font-family="Liberation Sans" font-weight="bold" >400</text>
<line x1="123.32" y1="275.00" x2="123.32" y2="277.00" stroke="#333" stroke-width="1" />
<text x="123.32" y="286.00" font-size="9" text-anchor="middle" fill="#000" font-family="Liberation Sans" font-weight="bold" >300</text>
<line x1="155.06" y1="275.00" x2="155.06" y2="277.00" stroke="#333" stroke-width="1" />
<text x="155.06" y="286.00" font-size="9" text-anchor="middle" fill="#000" font-family="Liberation Sans" font-weight="bold" >200</text>
<line x1="186.80" y1="275.00" x2="186.80" y2="277.00" stroke="#333" stroke-width="1" />
<text x="186.80" y="286.00" font-size="9" text-anchor="middle" fill="#000" font-family="Liberation Sans" font-weight="bold" >100</text>
<line x1="43.97" y1="275.00" x2="43.97" y2="276.20" stroke="#333" stroke-width="1" />
<line x1="75.71" y1="275.00" x2="75.71" y2="276.20" stroke="#333" stroke-width="1" />
<line x1="107.45" y1="275.00" x2="107.45" y2="276.20" stroke="#333" stroke-width="1" />
<line x1="139.19" y1="275.00" x2="139.19" y2="276.20" stroke="#333" stroke-width="1" />
<line x1="170.93" y1="275.00" x2="170.93" y2="276.20" stroke="#333" stroke-width="1" />
<line x1="26.10" y1="275.00" x2="28.10" y2="275.00" stroke="#333" stroke-width="1" />
<text x="24.40" y="277.60" font-size="9" text-anchor="end" fill="#000" font-family="Liberation Sans" font-weight="bold" >0</text>
<line x1="26.10" y1="251.66" x2="28.10" y2="251.66" stroke="#333" stroke-width="1" />
<text x="24.40" y="254.26" font-size="9" text-anchor="end" fill="#000" font-family="Liberation Sans" font-weight="bold" >10</text>
<line x1="26.10" y1="228.32" x2="28.10" y2="228.32" stroke="#333" stroke-width="1" />
<text x="24.40" y="230.92" font-size="9" text-anchor="end" fill="#000" font-family="Liberation Sans" font-weight="bold" >20</text>
<line x1="26.10" y1="204.98" x2="28.10" y2="204.98" stroke="#333" stroke-width="1" />
<text x="24.40" y="207.58" font-size="9" text-anchor="end" fill="#000" font-family="Liberation Sans" font-weight="bold" >30</text>
<line x1="26.10" y1="181.64" x2="28.10" y2="181.64" stroke="#333" stroke-width="1" />
<text x="24.40" y="184.24" font-size="9" text-anchor="end" fill="#000" font-family="Liberation Sans" font-weight="bold" >40</text>
<line x1="26.10" y1="158.30" x2="28.10" y2="158.30" stroke="#333" stroke-width="1" />
<text x="24.40" y="160.90" font-size="9" text-anchor="end" fill="#000" font-family="Liberation Sans" font-weight="bold" >50</text>
<line x1="26.90" y1="263.33" x2="28.10" y2="263.33" stroke="#333" stroke-width="1" />
<line x1="26.90" y1="239.99" x2="28.10" y2="239.99" stroke="#333" stroke-width="1" />
<line x1="26.90" y1="216.65" x2="28.10" y2="216.65" stroke="#333" stroke-width="1" />
<line x1="26.90" y1="193.31" x2="28.10" y2="193.31" stroke="#333" stroke-width="1" />
<line x1="26.90" y1="169.97" x2="28.10" y2="169.97" stroke="#333" stroke-width="1" />
<text x="106.90" y="299.30" font-size="9" text-anchor="middle" fill="#000" font-family="Liberation Sans" font-weight="bold" >Binding energy (eV)</text>
<text x="8.20" y="220.80" font-size="8.7" text-anchor="middle" fill="#000" font-family="Liberation Sans" font-weight="bold" transform="rotate(-90 8.2 220.8)">CPS</text>
<text x="43.60" y="176.90" font-size="13.5" text-anchor="start" fill="#000" font-family="Liberation Sans" font-weight="bold" >(c)</text>
<text x="27.30" y="155.30" font-size="8.3" text-anchor="start" fill="#000" font-family="Liberation Sans" font-weight="bold" >x 10</text>
<text x="43.50" y="151.40" font-size="7.6" text-anchor="start" fill="#000" font-family="Liberation Sans" font-weight="bold" >3</text>
<text x="43.20" y="220.00" font-size="8.4" text-anchor="start" fill="#000" font-family="Liberation Sans" font-weight="bold" >O 1s</text>
<text x="84.30" y="239.70" font-size="8.4" text-anchor="start" fill="#000" font-family="Liberation Sans" font-weight="bold" >N 1s</text>
<text x="121.80" y="184.40" font-size="8.4" text-anchor="start" fill="#000" font-family="Liberation Sans" font-weight="bold" >C 1s</text>
<text x="139.40" y="262.30" font-size="8.4" text-anchor="start" fill="#000" font-family="Liberation Sans" font-weight="bold" >S 2s</text>
<text x="160.00" y="259.60" font-size="8.4" text-anchor="start" fill="#000" font-family="Liberation Sans" font-weight="bold" >S 2p</text>
<path d="M225.10,259.60 L226.40,259.53 L227.70,259.39 L229.00,258.87 L230.30,260.97 L231.60,258.64 L232.90,259.79 L234.20,259.60 L235.50,258.66 L236.80,258.73 L238.10,261.01 L239.40,260.42 L240.70,260.25 L242.00,260.75 L243.30,258.33 L244.60,260.15 L245.90,260.28 L247.20,258.70 L248.50,259.39 L249.80,260.94 L251.10,258.99 L252.40,260.30 L253.70,258.50 L255.00,259.50 L256.30,259.91 L257.60,258.62 L258.90,259.25 L260.20,258.75 L261.50,260.15 L262.00,259.00 L262.80,259.67 L264.10,258.83 L265.40,259.27 L266.70,258.38 L268.00,259.40 L269.00,258.40 L269.30,257.24 L270.60,256.21 L271.00,255.50 L271.90,255.31 L273.20,254.06 L274.00,254.00 L274.50,252.58 L275.80,252.78 L277.10,254.03 L278.00,253.50 L278.40,252.43 L279.70,253.42 L281.00,252.00 L282.30,249.85 L282.50,249.50 L283.60,253.06 L284.00,252.50 L284.90,253.54 L286.20,253.18 L287.50,252.12 L288.80,251.13 L290.10,252.67 L291.40,253.24 L292.00,252.50 L292.70,253.70 L294.00,251.43 L295.30,251.19 L296.60,253.54 L297.90,252.70 L299.20,251.82 L300.00,251.80 L300.50,252.57 L301.80,250.94 L303.10,252.26 L304.40,252.77 L305.70,252.71 L307.00,251.52 L308.30,251.59 L309.60,253.19 L310.40,252.90 L310.90,253.56 L312.20,250.05 L313.50,248.39 L314.80,247.35 L314.90,248.50 L316.10,245.10 L317.40,239.32 L318.70,234.91 L320.00,231.92 L320.80,227.60 L321.30,226.45 L322.60,221.55 L323.90,219.01 L325.20,213.05 L326.50,210.03 L326.80,209.80 L327.80,208.38 L329.10,204.17 L330.40,201.14 L331.70,199.97 L332.70,197.90 L333.00,196.48 L334.30,194.51 L335.00,191.00 L335.60,187.93 L336.60,186.00 L336.90,187.34 L338.00,188.00 L338.20,187.20 L339.50,185.45 L339.60,184.30 L340.80,184.89 L341.20,185.30 L342.10,187.86 L342.60,188.50 L343.40,190.54 L344.60,194.90 L344.70,194.93 L346.00,206.81 L347.30,219.04 L347.40,219.00 L348.60,228.46 L349.90,238.86 L350.00,240.50 L351.20,243.85 L352.50,246.79 L353.80,251.35 L354.00,252.50 L355.10,253.82 L356.40,255.04 L357.70,256.49 L359.00,256.87 L360.30,257.37 L360.70,259.20 L361.60,258.12 L362.90,259.54 L364.20,259.60 L365.50,261.20 L366.80,260.78 L368.10,262.75 L369.40,262.76 L370.70,263.43 L371.40,263.20 L372.00,264.04 L373.30,263.70 L374.60,263.71 L375.90,263.65 L377.20,263.20 L378.50,265.69 L379.80,265.11 L381.10,264.20 L382.40,266.98 L383.30,265.90" fill="none" stroke="#ff1010" stroke-width="1.7" stroke-linejoin="round" />
<path d="M225.10,258.00 L226.40,257.47 L227.70,256.82 L228.80,255.80 L229.00,255.63 L230.30,254.77 L231.60,257.47 L232.90,255.06 L234.20,255.74 L235.50,257.72 L236.80,255.17 L238.10,256.38 L239.40,256.40 L240.00,256.50 L240.70,255.73 L242.00,257.75 L243.30,256.20 L244.60,254.98 L245.90,256.35 L247.20,254.92 L248.50,257.02 L249.80,257.48 L251.10,257.57 L252.40,254.98 L253.70,256.85 L255.00,255.72 L255.60,256.30 L256.30,255.69 L257.60,254.20 L258.90,253.24 L260.20,251.75 L261.50,252.25 L262.00,251.50 L262.80,249.27 L264.10,250.27 L265.40,245.88 L266.00,246.50 L266.70,246.63 L268.00,241.97 L269.30,239.31 L270.00,239.30 L270.60,239.16 L271.90,236.62 L273.20,235.43 L274.50,232.76 L275.00,232.00 L275.80,231.43 L277.10,228.23 L278.40,228.44 L279.70,226.40 L280.00,226.00 L281.00,225.99 L282.30,221.30 L283.60,219.66 L284.90,219.67 L285.00,219.00 L286.20,219.03 L287.30,216.60 L287.50,216.54 L288.80,218.57 L290.00,219.00 L290.10,219.22 L291.40,219.26 L292.40,220.00 L292.70,220.30 L294.00,222.46 L295.00,223.50 L295.30,222.69 L296.60,226.12 L297.00,227.50 L297.90,230.43 L299.20,232.20 L300.00,234.90 L300.50,236.17 L301.80,239.03 L303.00,243.00 L303.10,242.91 L304.40,248.14 L305.00,249.70 L305.70,251.08 L307.00,252.94 L308.00,252.50 L308.30,252.69 L309.60,253.01 L310.90,254.55 L312.00,256.00 L312.20,254.47 L313.50,253.67 L314.80,253.36 L316.10,252.09 L317.40,249.64 L317.90,249.90 L318.70,247.94 L320.00,246.06 L321.30,244.67 L322.60,244.01 L323.80,242.50 L323.90,241.62 L325.20,241.57 L326.50,238.69 L327.80,236.09 L329.10,234.43 L329.80,233.60 L330.40,231.81 L331.70,233.00 L333.00,232.17 L334.20,230.60 L334.30,230.03 L335.60,228.99 L336.90,225.51 L338.00,224.40 L338.20,223.36 L339.50,222.08 L340.80,220.69 L342.00,220.40 L342.10,220.75 L343.40,221.24 L344.70,221.20 L346.00,225.35 L347.30,226.94 L347.40,228.40 L348.60,234.14 L349.90,238.62 L350.00,239.10 L351.20,244.07 L352.50,250.22 L352.70,251.10 L353.80,252.58 L355.10,253.87 L356.40,256.44 L357.70,259.18 L358.00,259.20 L359.00,260.09 L360.30,261.00 L361.60,259.15 L362.90,261.55 L364.20,261.59 L365.50,261.64 L366.80,262.76 L368.10,260.55 L368.80,261.80 L369.40,262.63 L370.70,263.00 L372.00,260.67 L373.30,262.08 L374.60,263.14 L375.90,261.18 L377.20,262.87 L378.50,263.02 L379.80,261.61 L381.10,260.74 L382.40,260.95 L383.30,261.80" fill="none" stroke="#000" stroke-width="1.7" stroke-linejoin="round" />
<line x1="287.20" y1="218.00" x2="287.20" y2="275.00" stroke="#555" stroke-width="0.7" stroke-dasharray="1.3,1.3"/>
<line x1="330.20" y1="232.00" x2="330.20" y2="275.00" stroke="#555" stroke-width="0.7" stroke-dasharray="1.3,1.3"/>
<line x1="343.70" y1="221.00" x2="343.70" y2="275.00" stroke="#555" stroke-width="0.7" stroke-dasharray="1.3,1.3"/>
<rect x="225.10" y="158.30" width="158.20" height="116.70" fill="none" stroke="#333" stroke-width="1.1"/>
<line x1="225.10" y1="275.00" x2="225.10" y2="277.00" stroke="#333" stroke-width="1" />
<text x="225.10" y="286.00" font-size="9" text-anchor="middle" fill="#000" font-family="Liberation Sans" font-weight="bold" >174</text>
<line x1="247.70" y1="275.00" x2="247.70" y2="277.00" stroke="#333" stroke-width="1" />
<text x="247.70" y="286.00" font-size="9" text-anchor="middle" fill="#000" font-family="Liberation Sans" font-weight="bold" >172</text>
<line x1="270.30" y1="275.00" x2="270.30" y2="277.00" stroke="#333" stroke-width="1" />
<text x="270.30" y="286.00" font-size="9" text-anchor="middle" fill="#000" font-family="Liberation Sans" font-weight="bold" >170</text>
<line x1="292.90" y1="275.00" x2="292.90" y2="277.00" stroke="#333" stroke-width="1" />
<text x="292.90" y="286.00" font-size="9" text-anchor="middle" fill="#000" font-family="Liberation Sans" font-weight="bold" >168</text>
<line x1="315.50" y1="275.00" x2="315.50" y2="277.00" stroke="#333" stroke-width="1" />
<text x="315.50" y="286.00" font-size="9" text-anchor="middle" fill="#000" font-family="Liberation Sans" font-weight="bold" >166</text>
<line x1="338.10" y1="275.00" x2="338.10" y2="277.00" stroke="#333" stroke-width="1" />
<text x="338.10" y="286.00" font-size="9" text-anchor="middle" fill="#000" font-family="Liberation Sans" font-weight="bold" >164</text>
<line x1="360.70" y1="275.00" x2="360.70" y2="277.00" stroke="#333" stroke-width="1" />
<text x="360.70" y="286.00" font-size="9" text-anchor="middle" fill="#000" font-family="Liberation Sans" font-weight="bold" >162</text>
<line x1="383.30" y1="275.00" x2="383.30" y2="277.00" stroke="#333" stroke-width="1" />
<text x="383.30" y="286.00" font-size="9" text-anchor="middle" fill="#000" font-family="Liberation Sans" font-weight="bold" >160</text>
<line x1="236.40" y1="275.00" x2="236.40" y2="276.20" stroke="#333" stroke-width="1" />
<line x1="259.00" y1="275.00" x2="259.00" y2="276.20" stroke="#333" stroke-width="1" />
<line x1="281.60" y1="275.00" x2="281.60" y2="276.20" stroke="#333" stroke-width="1" />
<line x1="304.20" y1="275.00" x2="304.20" y2="276.20" stroke="#333" stroke-width="1" />
<line x1="326.80" y1="275.00" x2="326.80" y2="276.20" stroke="#333" stroke-width="1" />
<line x1="349.40" y1="275.00" x2="349.40" y2="276.20" stroke="#333" stroke-width="1" />
<line x1="372.00" y1="275.00" x2="372.00" y2="276.20" stroke="#333" stroke-width="1" />
<line x1="223.10" y1="275.00" x2="225.10" y2="275.00" stroke="#333" stroke-width="1" />
<text x="221.30" y="277.60" font-size="9" text-anchor="end" fill="#000" font-family="Liberation Sans" font-weight="bold" >0.0</text>
<line x1="223.10" y1="251.66" x2="225.10" y2="251.66" stroke="#333" stroke-width="1" />
<text x="221.30" y="254.26" font-size="9" text-anchor="end" fill="#000" font-family="Liberation Sans" font-weight="bold" >0.2</text>
<line x1="223.10" y1="228.32" x2="225.10" y2="228.32" stroke="#333" stroke-width="1" />
<text x="221.30" y="230.92" font-size="9" text-anchor="end" fill="#000" font-family="Liberation Sans" font-weight="bold" >0.4</text>
<line x1="223.10" y1="204.98" x2="225.10" y2="204.98" stroke="#333" stroke-width="1" />
<text x="221.30" y="207.58" font-size="9" text-anchor="end" fill="#000" font-family="Liberation Sans" font-weight="bold" >0.6</text>
<line x1="223.10" y1="181.64" x2="225.10" y2="181.64" stroke="#333" stroke-width="1" />
<text x="221.30" y="184.24" font-size="9" text-anchor="end" fill="#000" font-family="Liberation Sans" font-weight="bold" >0.8</text>
<line x1="223.10" y1="158.30" x2="225.10" y2="158.30" stroke="#333" stroke-width="1" />
<text x="221.30" y="160.90" font-size="9" text-anchor="end" fill="#000" font-family="Liberation Sans" font-weight="bold" >1.0</text>
<line x1="223.90" y1="263.33" x2="225.10" y2="263.33" stroke="#333" stroke-width="1" />
<line x1="223.90" y1="239.99" x2="225.10" y2="239.99" stroke="#333" stroke-width="1" />
<line x1="223.90" y1="216.65" x2="225.10" y2="216.65" stroke="#333" stroke-width="1" />
<line x1="223.90" y1="193.31" x2="225.10" y2="193.31" stroke="#333" stroke-width="1" />
<line x1="223.90" y1="169.97" x2="225.10" y2="169.97" stroke="#333" stroke-width="1" />
<text x="304.20" y="299.50" font-size="9" text-anchor="middle" fill="#000" font-family="Liberation Sans" font-weight="bold" >Binding energy (eV)</text>
<text x="201.60" y="220.20" font-size="8.7" text-anchor="middle" fill="#000" font-family="Liberation Sans" font-weight="bold" transform="rotate(-90 201.6 220.2)">CPS</text>
<text x="237.00" y="176.70" font-size="13.5" text-anchor="start" fill="#000" font-family="Liberation Sans" font-weight="bold" >(d)</text>
<text x="295.60" y="174.30" font-size="10.8" text-anchor="start" fill="#000" font-family="Liberation Sans" font-weight="bold" >S 2p</text>
<text x="224.50" y="155.30" font-size="8.3" text-anchor="start" fill="#000" font-family="Liberation Sans" font-weight="bold" >x 10</text>
<text x="240.70" y="151.40" font-size="7.6" text-anchor="start" fill="#000" font-family="Liberation Sans" font-weight="bold" >3</text>
<text x="261.20" y="203.90" font-size="7.2" text-anchor="start" fill="#000" font-family="Liberation Sans" font-weight="bold" >168.5 eV</text>
<text x="294.80" y="217.90" font-size="7.2" text-anchor="start" fill="#000" font-family="Liberation Sans" font-weight="bold" >164.7 eV</text>
<text x="351.40" y="209.70" font-size="7.2" text-anchor="start" fill="#000" font-family="Liberation Sans" font-weight="bold" >163.5 eV</text>
<line x1="277.40" y1="207.70" x2="285.90" y2="214.90" stroke="#000" stroke-width="0.9" />
<polygon points="285.90,214.90 282.71,214.03 284.52,211.89" fill="#000"/>
<line x1="313.00" y1="220.00" x2="331.50" y2="232.50" stroke="#000" stroke-width="0.9" />
<polygon points="331.50,232.50 328.23,231.98 329.80,229.66" fill="#000"/>
<line x1="352.70" y1="211.00" x2="344.90" y2="220.20" stroke="#000" stroke-width="0.9" />
<polygon points="344.90,220.20 345.77,217.01 347.91,218.82" fill="#000"/>
</svg></body></html>
